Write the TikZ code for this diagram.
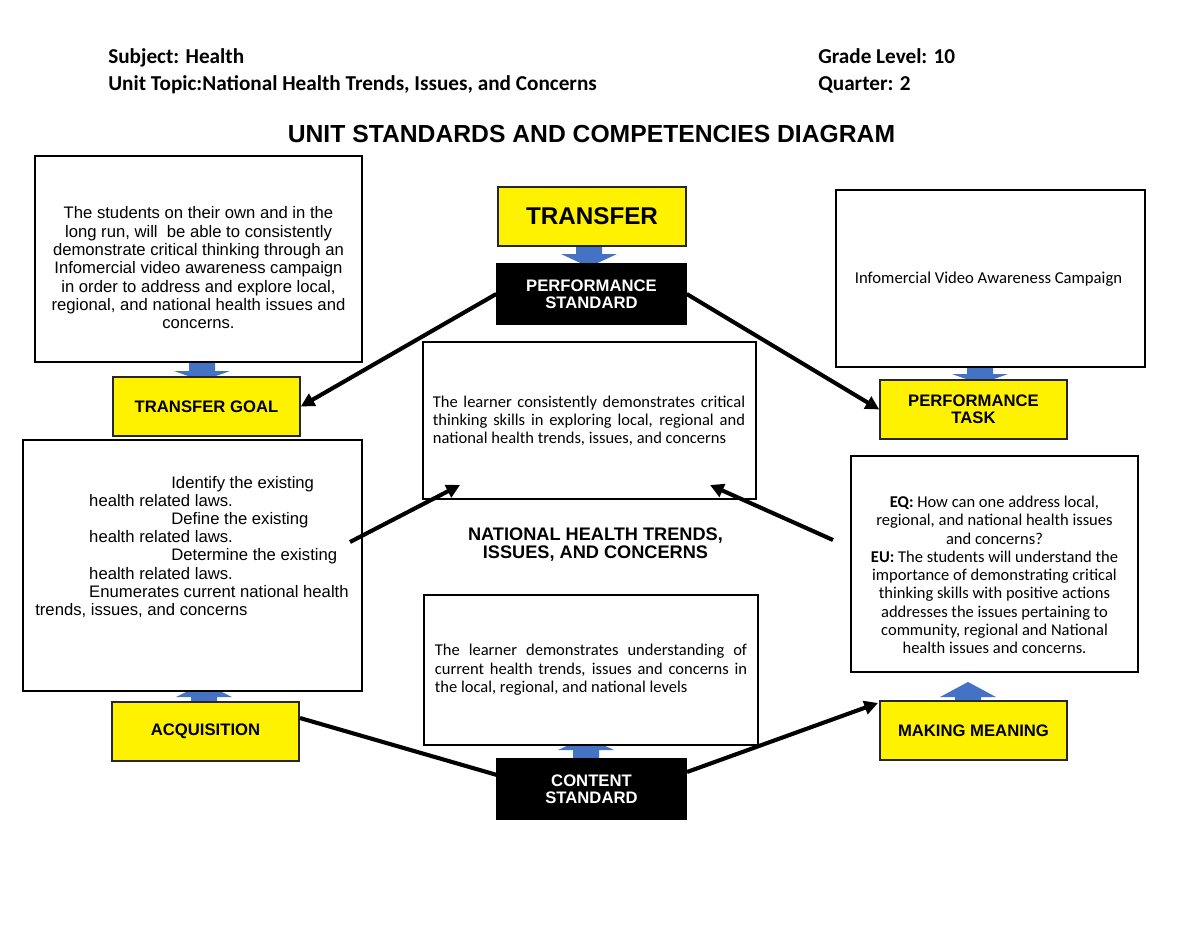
\documentclass[tikz,border=0pt]{standalone}
\usepackage{fontspec}
\setmainfont{Liberation Sans}
\newfontfamily\calib{Carlito}
\usetikzlibrary{arrows.meta}
\definecolor{arrowblue}{RGB}{68,114,196}
\newcommand\blockarr[4]{\fill[barrow] (#1-13,#2) -- (#1+13,#2) -- (#1+13,#4) -- (#1+28,#4) -- (#1,#3) -- (#1-28,#4) -- (#1-13,#4) -- cycle;}
\newcommand\jline[1]{\makebox[206pt][s]{#1}}
\tikzset{
  px/.style 2 args={minimum width=#1*0.66pt, minimum height=#2*0.66pt},
  wbox/.style={draw=black, line width=1pt, fill=white, inner sep=0pt},
  ybox/.style={draw=black!85, line width=1pt, fill=yellow, inner sep=0pt, align=center, font=\bfseries\fontsize{11}{11.5}\selectfont},
  kbox/.style={draw=black, line width=1pt, fill=black, text=white, inner sep=0pt, align=center, font=\bfseries\fontsize{11}{11.5}\selectfont},
  conn/.style={line width=2.7pt, black},
  conna/.style={conn, -{Triangle[length=9pt,width=9pt]}},
  barrow/.style={fill=arrowblue},
  txt/.style={inner sep=0pt},
  hdr/.style={inner sep=0pt, anchor=base west, font=\calib\bfseries\fontsize{14}{16}\selectfont},
}
\begin{document}
\begin{tikzpicture}[x=0.66pt, y=-0.66pt]
\useasboundingbox (0,0) rectangle (1200,927);
\fill[white] (0,0) rectangle (1200,927);

% header
\node[hdr] (subj) at (108,63.5) {Subject: Health};
\node[hdr] (topic) at (108,90.5) {Unit Topic:National Health Trends, Issues, and Concerns};
\node[hdr] (grade) at (818,63.5) {Grade Level: 10};
\node[hdr] (quarter) at (818,90.5) {Quarter: 2};
\node[inner sep=0pt, anchor=base, font=\bfseries\fontsize{16.3}{18}\selectfont] (title) at (591.5,142) {UNIT STANDARDS AND COMPETENCIES DIAGRAM};

% block arrows (behind boxes)
\blockarr{202}{358}{381}{371}
\blockarr{589}{244}{267}{254}
\blockarr{980}{365}{384}{374}
\blockarr{204}{704}{683}{697}
\blockarr{586}{761}{737}{750}
\blockarr{968}{703}{682}{697}

% boxes
\node[wbox, px={327}{206}] (tl) at (198.5,259) {};
\node[ybox, px={187}{59}] (tg) at (206.5,406.5) {TRANSFER GOAL};
\node[ybox, px={188}{59}, font=\bfseries\fontsize{16}{18}\selectfont] (transfer) at (592,216.5) {TRANSFER};
\node[kbox, px={189}{60}] (ps) at (591.5,294) {PERFORMANCE\\STANDARD};
\node[wbox, px={333}{157}] (mu) at (589.5,420.5) {};
\node[wbox, px={309}{177}] (tr) at (990.5,278.5) {};
\node[ybox, px={187}{59}] (pt) at (973.5,409.5) {PERFORMANCE\\TASK};
\node[wbox, px={339}{251}] (lm) at (192.5,565.5) {};
\node[ybox, px={187}{59}] (acq) at (205.5,731.5) {ACQUISITION};
\node[wbox, px={334}{150}] (ml) at (591,670) {};
\node[kbox, px={189}{60}] (cs) at (591.5,789) {CONTENT\\STANDARD};
\node[wbox, px={287}{216}] (rm) at (994.5,564) {};
\node[ybox, px={187}{59}] (mm) at (973.5,730.5) {MAKING MEANING};

% texts
\node[txt, align=center, font=\fontsize{11}{12.1}\selectfont] (tltext) at (198.5,268) {The students on their own and in the\\ long run, will\ \ be able to consistently\\ demonstrate critical thinking through an\\ Infomercial video awareness campaign\\ in order to address and explore local,\\ regional, and national health issues and\\ concerns.};
\node[txt, align=left, anchor=west, font=\fontsize{11}{11.9}\selectfont] (lmtext) at (35,547) {\hspace*{89.8pt}Identify the existing\\ \hspace*{35.6pt}health related laws.\\ \hspace*{89.8pt}Define the existing\\ \hspace*{35.6pt}health related laws.\\ \hspace*{89.8pt}Determine the existing\\ \hspace*{35.6pt}health related laws.\\ \hspace*{35.6pt}Enumerates current national health\\ trends, issues, and concerns};
\node[txt, align=left, font=\calib\fontsize{10.9}{12}\selectfont] (mutext) at (589,421) {\jline{The learner consistently demonstrates critical}\\ \jline{thinking skills in exploring local, regional and}\\ national health trends, issues, and concerns\hspace*{\fill}};
\node[txt, align=left, font=\calib\fontsize{10.9}{12.2}\selectfont] (mltext) at (591,670) {\jline{The learner demonstrates understanding of}\\ \jline{current health trends, issues and concerns in}\\ the local, regional, and national levels};
\node[txt, font=\calib\fontsize{11}{12}\selectfont] (trtext) at (988.5,279) {Infomercial Video Awareness Campaign};
\node[txt, align=center, font=\calib\fontsize{10.9}{12.05}\selectfont] (rmtext) at (994.5,575) {\textbf{EQ:} How can one address local,\\ regional, and national health issues\\ and concerns?\\ \textbf{EU:} The students will understand the\\ importance of demonstrating critical\\ thinking skills with positive actions\\ addresses the issues pertaining to\\ community, regional and National\\ health issues and concerns.};
\node[txt, align=center, font=\bfseries\fontsize{12}{11.5}\selectfont] (nat) at (595.5,544.5) {NATIONAL HEALTH TRENDS,\\ ISSUES, AND CONCERNS};

% connector end points
\coordinate (lmout) at (350,542);
\coordinate (mutipL) at (460,485);
\coordinate (rmout) at (833,540);
\coordinate (mutipR) at (710,485);
\coordinate (acqout) at (300,718);
\coordinate (csin) at (497,775);
\coordinate (csout) at (687,772);
\coordinate (mmtip) at (878,703);

% connectors
\draw[conna] (ps.west) -- (tg.east);
\draw[conna] (ps.east) -- (pt.west);
\draw[conna] (lmout) -- (mutipL);
\draw[conna] (rmout) -- (mutipR);
\draw[conn] (acqout) -- (csin);
\draw[conna] (csout) -- (mmtip);
\end{tikzpicture}
\end{document}
